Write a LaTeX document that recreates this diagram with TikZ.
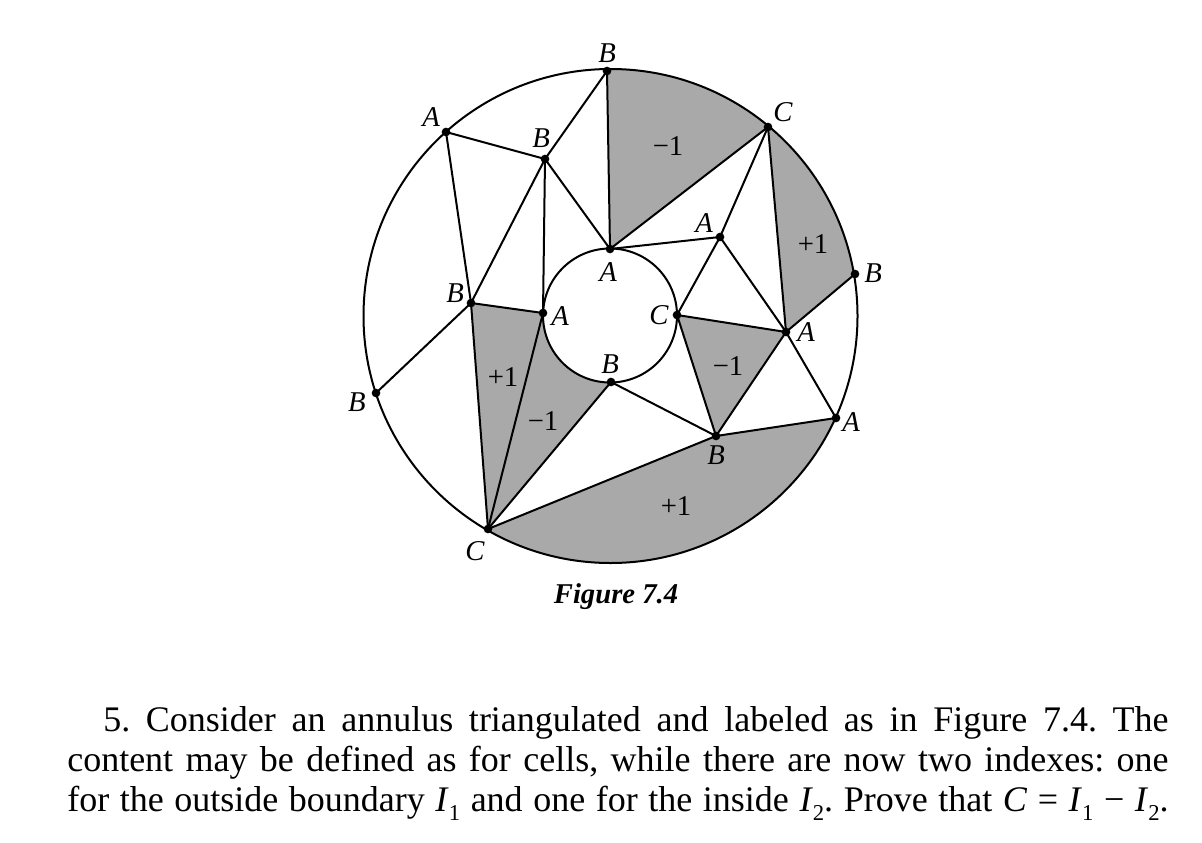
\documentclass[tikz,border=0pt]{standalone}
\usepackage{fontspec}
\setmainfont{Liberation Serif}
\usetikzlibrary{calc,backgrounds}
\definecolor{halftone}{HTML}{A9A9A9}
\newcommand{\subnum}[1]{\raisebox{-0.25em}{\fontsize{17}{20}\selectfont #1}}
\frenchspacing
\tikzset{
  x=0.75pt,y=-0.75pt,
  vert/.style={circle,fill=black,inner sep=0pt,minimum size=6.5pt},
  edge/.style={line width=1.5pt},
  ring/.style={line width=1.5pt},
  vlabel/.style={font=\fontsize{21.5}{24}\selectfont\itshape,inner sep=0pt},
  index/.style={font=\fontsize{21.5}{24}\selectfont,inner sep=0pt},
  caption/.style={font=\fontsize{21.5}{25}\selectfont\bfseries\itshape,inner sep=0pt},
  body/.style={font=\fontsize{27}{30}\selectfont,inner sep=0pt,anchor=base west},
}
\begin{document}
\begin{tikzpicture}
\useasboundingbox (0,0) rectangle (1202,842);
\coordinate (ctr) at (610.5,316);
\coordinate (inn) at (610,315.5);
\coordinate (farTop) at (800,20);
\coordinate (farRight) at (960,180);
\coordinate (farBottom) at (640,760);
\coordinate (farBR) at (900,620);
\coordinate (farBL) at (430,680);

\node[vert] (B1) at (607,71) {};
\node[vert] (C1) at (768,127) {};
\node[vert] (B2) at (855,274) {};
\node[vert] (A1) at (836,418) {};
\node[vert] (C2) at (488,529) {};
\node[vert] (B3) at (376,393) {};
\node[vert] (A2) at (446,132) {};
\node[vert] (B4) at (545,159) {};
\node[vert] (B5) at (471,303) {};
\node[vert] (A3) at (720,237) {};
\node[vert] (A4) at (786,332) {};
\node[vert] (B6) at (716,436) {};
\node[vert] (A5) at (610,249) {};
\node[vert] (A6) at (543,313) {};
\node[vert] (B7) at (611,382) {};
\node[vert] (C3) at (677,315) {};

\begin{pgfonlayer}{background}
\begin{scope}
  \clip (ctr) circle[radius=247];
  \fill[halftone] (A5.center) -- (B1.center) -- (607,20) -- (farTop) -- (C1.center) -- cycle;
  \fill[halftone] (A4.center) -- (C1.center) -- (farTop) -- (farRight) -- (B2.center) -- cycle;
  \fill[halftone] (A1.center) -- (farBR) -- (farBottom) -- (farBL) -- (C2.center) -- (B6.center) -- cycle;
\end{scope}
\fill[halftone] (C3.center) -- (A4.center) -- (B6.center) -- cycle;
\fill[halftone] (B5.center) -- (A6.center) -- (C2.center) -- cycle;
\fill[halftone] (A6.center) -- (B7.center) -- (C2.center) -- cycle;
\fill[white] (inn) circle[radius=67];
\draw[ring] (ctr) circle[radius=247];
\draw[ring] (inn) circle[radius=67];
\foreach \a/\b in {A2/B4,A2/B5,B4/B1,B4/B5,B4/A6,B4/A5,B1/A5,A5/C1,A5/A3,A3/C1,A3/C3,A3/A4,C1/A4,A4/B2,A4/C3,A4/B6,A4/A1,C3/B6,B6/B7,B6/A1,B6/C2,B7/C2,A6/C2,B5/A6,B5/C2,B5/B3}
  \draw[edge] (\a.center) -- (\b.center);
\end{pgfonlayer}

\node[vlabel] (lB1) at (607,53) {B};
\node[vlabel] (lA2) at (431,117) {A};
\node[vlabel] (lB4) at (541,138) {B};
\node[vlabel] (lB5) at (455,293) {B};
\node[vlabel] (lA5) at (608,272) {A};
\node[vlabel] (lA6) at (560,316) {A};
\node[vlabel] (lB3) at (357,402) {B};
\node[vlabel] (lC2) at (475,551) {C};
\node[vlabel] (lB7) at (610,364) {B};
\node[vlabel] (lC1) at (783,112) {C};
\node[vlabel] (lA3) at (704,223) {A};
\node[vlabel] (lB2) at (873,273) {B};
\node[vlabel] (lC3) at (659,315) {C};
\node[vlabel] (lA4) at (806,332) {A};
\node[vlabel] (lA1) at (851,422) {A};
\node[vlabel] (lB6) at (716,455) {B};

\node[index] (n1) at (503,377) {+1};
\node[index] (n2) at (543,421) {−1};
\node[index] (n3) at (668,146) {−1};
\node[index] (n4) at (813,244) {+1};
\node[index] (n5) at (728,366) {−1};
\node[index] (n6) at (676,506) {+1};

\node[caption] (fig) at (616,597) {Figure 7.4};

\node[body] (t1) at (103,731) {\makebox[799pt][s]{5. Consider an annulus triangulated and labeled as in Figure 7.4. The}};
\node[body] (t2) at (67,771) {\makebox[826pt][s]{content may be defined as for cells, while there are now two indexes: one}};
\node[body] (t3) at (67,811) {\makebox[826pt][s]{for the outside boundary \textit{I}\subnum{1} and one for the inside \textit{I}\subnum{2}. Prove that \textit{C} = \textit{I}\subnum{1} − \textit{I}\subnum{2}.}};
\end{tikzpicture}
\end{document}
